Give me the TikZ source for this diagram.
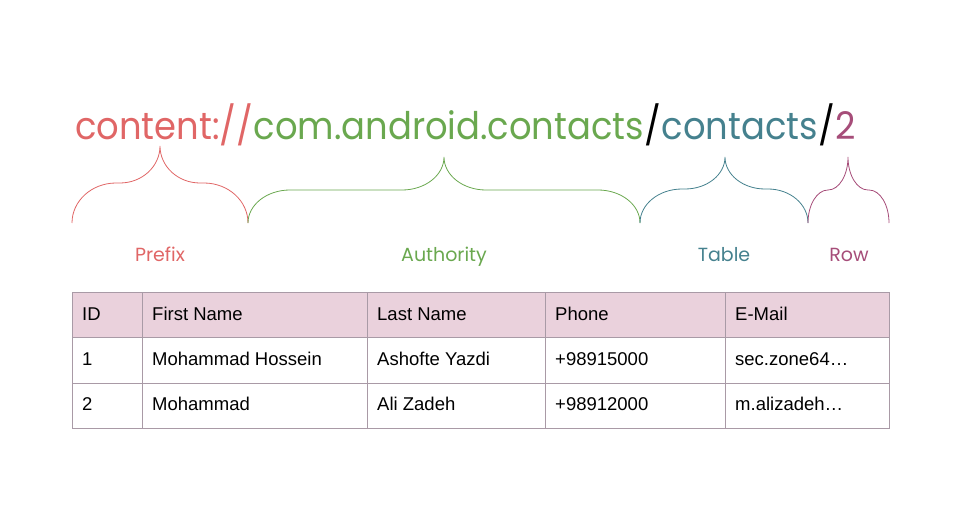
\documentclass[tikz,border=0pt]{standalone}
\usepackage{fontspec}
\setmainfont{Liberation Sans}
\newfontfamily\urlfont[FakeStretch=0.93]{Poppins}
\newfontfamily\labelfont{Poppins}
\usetikzlibrary{positioning}

\definecolor{prefixred}{HTML}{E06666}
\definecolor{authgreen}{HTML}{6AA84F}
\definecolor{tableteal}{HTML}{45818E}
\definecolor{rowpurple}{HTML}{A64D79}
\definecolor{headpink}{HTML}{EAD1DC}
\definecolor{gridline}{HTML}{A99AA6}

\tikzset{
  part/.style={inner sep=0pt, anchor=base west,
    font=\urlfont\fontsize{38}{38}\selectfont},
  partlabel/.style={inner sep=0pt, anchor=base,
    font=\labelfont\fontsize{19}{19}\selectfont},
  brace/.style={line width=0.8pt},
  cell/.style={inner sep=0pt, anchor=base west,
    font=\fontsize{18.5}{20}\selectfont},
  grid/.style={draw=gridline, line width=0.8pt}
}

\begin{document}
\begin{tikzpicture}[x=1pt, y=-1pt]

\useasboundingbox (0,0) rectangle (959,524);

\node[part, text=prefixred] (scheme) at (75,140) {content://};
\node[part, text=authgreen] (authority) at (scheme.base east) {com.android.contacts};
\node[part] (slashA) at (authority.base east) {/};
\node[part, text=tableteal] (table) at (slashA.base east) {contacts};
\node[part] (slashB) at (table.base east) {/};
\node[part, text=rowpurple] (row) at (slashB.base east) {2};

\coordinate (pL) at (72,223);
\coordinate (pR) at (248,223);
\coordinate (aR) at (640,223);
\coordinate (tR) at (808,223);
\coordinate (rR) at (889,223);

\draw[brace, prefixred] (pL)
  arc[start angle=180, end angle=270, x radius=44, y radius=40] -- ++(4,0)
  arc[start angle=90, end angle=0, x radius=40, y radius=37]
  arc[start angle=180, end angle=90, x radius=40, y radius=37] -- ++(4,0)
  arc[start angle=270, end angle=360, x radius=44, y radius=40];
\draw[brace, authgreen] (pR)
  arc[start angle=180, end angle=270, x radius=42, y radius=33] -- ++(112,0)
  arc[start angle=90, end angle=0, x radius=42, y radius=33]
  arc[start angle=180, end angle=90, x radius=42, y radius=33] -- ++(112,0)
  arc[start angle=270, end angle=360, x radius=42, y radius=33];
\draw[brace, tableteal] (aR)
  arc[start angle=180, end angle=270, x radius=42, y radius=34] -- ++(3,0)
  arc[start angle=90, end angle=0, x radius=40, y radius=32]
  arc[start angle=180, end angle=90, x radius=40, y radius=32] -- ++(3,0)
  arc[start angle=270, end angle=360, x radius=40, y radius=34];
\draw[brace, rowpurple] (tR)
  arc[start angle=180, end angle=270, x radius=20, y radius=33]
  arc[start angle=90, end angle=0, x radius=20, y radius=33]
  arc[start angle=180, end angle=90, x radius=20, y radius=33] -- ++(1,0)
  arc[start angle=270, end angle=360, x radius=20, y radius=33];

\node[partlabel, text=prefixred] (prefixlbl) at (160,261) {Prefix};
\node[partlabel, text=authgreen] (authlbl) at (444,261) {Authority};
\node[partlabel, text=tableteal] (tablelbl) at (724,261) {Table};
\node[partlabel, text=rowpurple] (rowlbl) at (849,261) {Row};

\fill[headpink] (72,292) rectangle (889,337);
\draw[grid] (72,292) rectangle (889,428);
\draw[grid] (72,337) -- (889,337);
\draw[grid] (72,383) -- (889,383);
\draw[grid] (142,292) -- (142,428);
\draw[grid] (367,292) -- (367,428);
\draw[grid] (545,292) -- (545,428);
\draw[grid] (725,292) -- (725,428);

\node[cell] (hid) at (82,320) {ID};
\node[cell] (hfirst) at (152,320) {First Name};
\node[cell] (hlast) at (377,320) {Last Name};
\node[cell] (hphone) at (555,320) {Phone};
\node[cell] (hmail) at (735,320) {E-Mail};

\node[cell] (aid) at (82,365) {1};
\node[cell] (afirst) at (152,365) {Mohammad Hossein};
\node[cell] (alast) at (377,365) {Ashofte Yazdi};
\node[cell] (aphone) at (555,365) {+98915000};
\node[cell] (amail) at (735,365) {sec.zone64…};

\node[cell] (bid) at (82,410) {2};
\node[cell] (bfirst) at (152,410) {Mohammad};
\node[cell] (blast) at (377,410) {Ali Zadeh};
\node[cell] (bphone) at (555,410) {+98912000};
\node[cell] (bmail) at (735,410) {m.alizadeh…};

\end{tikzpicture}
\end{document}
